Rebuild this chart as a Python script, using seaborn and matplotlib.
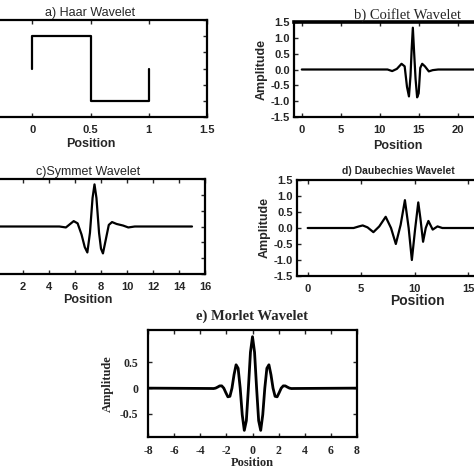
import matplotlib
matplotlib.use("Agg")
import matplotlib.pyplot as plt
import seaborn as sns
import numpy as np

# ---------------- data ----------------
haar_x = [0, 0, 0.5, 0.5, 1, 1]
haar_y = [0, 1, 1, -1, -1, 0]

coif_x = [0, 11.0, 11.6, 12.2, 12.8, 13.2, 13.5, 13.75, 13.95, 14.1, 14.25,
          14.4, 14.6, 14.8, 15.0, 15.2, 15.45, 15.8, 16.3, 16.8, 17.5, 29]
coif_y = [0, 0, -0.05, 0.02, 0.18, 0.1, -0.55, -0.85, -0.2, 0.65, 1.32,
          0.6, -0.3, -0.88, -0.75, 0.05, 0.18, 0.1, -0.06, -0.02, 0, 0]

sym_x = [0, 4.8, 5.3, 5.9, 6.2, 6.5, 6.75, 6.95, 7.15, 7.35, 7.5, 7.65,
         7.85, 8.0, 8.15, 8.35, 8.6, 8.85, 9.2, 9.7, 10.1, 10.6, 15]
sym_y = [0, 0, -0.03, 0.17, 0.1, -0.25, -0.65, -0.82, -0.2, 0.9, 1.33, 0.9,
         -0.2, -0.7, -0.85, -0.45, 0.05, 0.14, 0.08, 0.03, -0.03, 0, 0]

db_x = [0, 4.3, 4.8, 5.15, 5.6, 6.15, 6.7, 7.3, 7.8, 8.25, 8.7, 9.1, 9.45,
        9.75, 10.05, 10.35, 10.55, 10.8, 11.05, 11.3, 11.7, 12.15, 12.6, 19]
db_y = [0, 0, 0.05, 0.08, 0.02, -0.13, 0.05, 0.35, 0.0, -0.5, 0.1, 0.87, 0.0,
        -1.0, -0.05, 0.8, 0.3, -0.43, 0.0, 0.22, -0.05, 0.05, 0.0, 0]

mor_x = [-8, -3.142, -2.985, -2.827, -2.670, -2.513, -2.356, -2.199, -2.042,
         -1.885, -1.728, -1.571, -1.414, -1.257, -1.100, -0.942, -0.785,
         -0.628, -0.471, -0.314, -0.157, 0.0, 0.157, 0.314, 0.471, 0.628,
         0.785, 0.942, 1.100, 1.257, 1.414, 1.571, 1.728, 1.885, 2.042,
         2.199, 2.356, 2.513, 2.670, 2.827, 2.985, 3.142, 8]
mor_y = [0, -0.007, -0.008, 0.0, 0.020, 0.043, 0.044, 0.0, -0.088,
         -0.169, -0.159, 0.0, 0.260, 0.454, 0.386, 0.0, -0.519,
         -0.821, -0.633, 0.0, 0.698, 1.0, 0.698, 0.0, -0.633, -0.821,
         -0.519, 0.0, 0.386, 0.454, 0.260, 0.0, -0.159, -0.169, -0.088,
         0.0, 0.044, 0.043, 0.020, 0.0, -0.008, -0.007, 0]

ticks_15 = [-1.5, -1.0, -0.5, 0.0, 0.5, 1.0, 1.5]
ticks_15_lbl = ["-1.5", "-1.0", "-0.5", "0.0", "0.5", "1.0", "1.5"]
haar_xt = [0, 0.5, 1, 1.5]
haar_xl = ["0", "0.5", "1", "1.5"]
coif_xt = [0, 5, 10, 15, 20]
sym_xt = [2, 4, 6, 8, 10, 12, 14, 16]
db_xt = [0, 5, 10, 15]
mor_xt = [-8, -6, -4, -2, 0, 2, 4, 6, 8]
mor_yt = [-0.5, 0, 0.5]
mor_yl = ["-0.5", "0", "0.5"]

# ---------------- style ----------------
sns.set_style("ticks")
plt.rcParams["font.family"] = ["Liberation Sans", "DejaVu Sans"]
plt.rcParams["axes.linewidth"] = 1.6
plt.rcParams["xtick.direction"] = "in"
plt.rcParams["ytick.direction"] = "in"
plt.rcParams["xtick.major.size"] = 3
plt.rcParams["ytick.major.size"] = 3
plt.rcParams["xtick.major.width"] = 1.0
plt.rcParams["ytick.major.width"] = 1.0
plt.rcParams["xtick.major.pad"] = 6
plt.rcParams["ytick.major.pad"] = 3

W = H = 474
fig = plt.figure(figsize=(4.74, 4.74), dpi=100)


def add_ax(l, t, r, b):
    return fig.add_axes([l / W, 1 - b / H, (r - l) / W, (b - t) / H])


SANS = ["Liberation Sans", "DejaVu Sans"]
SERIF = ["Liberation Serif", "DejaVu Serif"]
LW = 1.6


def box(ax):
    ax.tick_params(top=True, right=True, which="both")
    for s in ax.spines.values():
        s.set_visible(True)
        s.set_color("black")


# a) Haar  (left side of this panel lies outside the picture)
ax = add_ax(-26, 20, 207, 117)
sns.lineplot(x=haar_x, y=haar_y, sort=False, estimator=None, color="black", lw=LW, ax=ax)
ax.set_xlim(-0.5, 1.5)
ax.set_ylim(-1.5, 1.5)
ax.set_xticks(haar_xt)
ax.set_xticklabels(haar_xl, fontsize=8, fontweight="bold", family=SANS)
ax.set_yticks(ticks_15)
ax.tick_params(axis="y", labelleft=False)
ax.set_title("a) Haar Wavelet", fontsize=9, family=SANS, pad=3)
ax.set_xlabel("Position", fontsize=9, fontweight="bold", family=SANS, labelpad=2)
box(ax)

# b) Coiflet  (right side lies outside the picture)
ax = add_ax(294, 22, 520, 117)
sns.lineplot(x=coif_x, y=coif_y, sort=False, estimator=None, color="black", lw=LW, ax=ax)
ax.set_xlim(-1, 28)
ax.set_ylim(-1.5, 1.5)
ax.set_xticks(coif_xt)
ax.set_xticklabels([str(v) for v in coif_xt], fontsize=8, fontweight="bold", family=SANS)
ax.set_yticks(ticks_15)
ax.set_yticklabels(ticks_15_lbl, fontsize=8, fontweight="bold", family=SANS)
ax.set_title("b) Coiflet Wavelet", fontsize=10.5, family=SERIF, pad=2)
ax.set_xlabel("Position", fontsize=9, fontweight="bold", family=SANS)
ax.xaxis.set_label_coords((398 - 294) / (520 - 294), -0.245)
ax.set_ylabel("Amplitude", fontsize=9, fontweight="bold", family=SANS, labelpad=2)
ax.spines["top"].set_linewidth(2.6)
box(ax)

# c) Symlet  (left side lies outside the picture)
ax = add_ax(-29, 179, 205, 274)
sns.lineplot(x=sym_x, y=sym_y, sort=False, estimator=None, color="black", lw=LW, ax=ax)
ax.set_xlim(-2, 16)
ax.set_ylim(-1.5, 1.5)
ax.set_xticks(sym_xt)
ax.set_xticklabels([str(v) for v in sym_xt], fontsize=8, fontweight="bold", family=SANS)
ax.set_yticks(ticks_15)
ax.tick_params(axis="y", labelleft=False)
ax.set_title("c)Symmet Wavelet", fontsize=9, family=SANS, pad=3)
ax.set_xlabel("Position", fontsize=9, fontweight="bold", family=SANS, labelpad=1)
box(ax)

# d) Daubechies  (right side lies outside the picture)
ax = add_ax(297, 180, 500, 276)
sns.lineplot(x=db_x, y=db_y, sort=False, estimator=None, color="black", lw=LW, ax=ax)
ax.set_xlim(-1, 18)
ax.set_ylim(-1.5, 1.5)
ax.set_xticks(db_xt)
ax.set_xticklabels([str(v) for v in db_xt], fontsize=8, fontweight="bold", family=SANS)
ax.set_yticks(ticks_15)
ax.set_yticklabels(ticks_15_lbl, fontsize=8, fontweight="bold", family=SANS)
ax.set_title("d) Daubechies Wavelet", fontsize=7.5, fontweight="bold", family=SANS, pad=4)
ax.set_xlabel("Position", fontsize=10, fontweight="bold", family=SANS)
ax.xaxis.set_label_coords((417 - 297) / (500 - 297), -0.19)
ax.set_ylabel("Amplitude", fontsize=9, fontweight="bold", family=SANS, labelpad=2)
box(ax)

# e) Morlet
ax = add_ax(148, 330, 357, 437)
sns.lineplot(x=mor_x, y=mor_y, sort=False, estimator=None, color="black", lw=2.0, ax=ax)
ax.set_xlim(-8, 8)
ax.set_ylim(-0.95, 1.13)
ax.set_xticks(mor_xt)
ax.set_xticklabels([str(v) for v in mor_xt], fontsize=8.5, fontweight="bold", family=SERIF)
ax.set_yticks(mor_yt)
ax.set_yticklabels(mor_yl, fontsize=8.5, fontweight="bold", family=SERIF)
ax.tick_params(axis="y", pad=7)
ax.set_title("e) Morlet Wavelet", fontsize=10.5, fontweight="bold", family=SERIF, pad=7)
ax.set_xlabel("Position", fontsize=9, fontweight="bold", family=SERIF, labelpad=0)
ax.set_ylabel("Amplitude", fontsize=9, fontweight="bold", family=SERIF, labelpad=4)
box(ax)

fig.savefig("out.png", dpi=100, facecolor="white")
